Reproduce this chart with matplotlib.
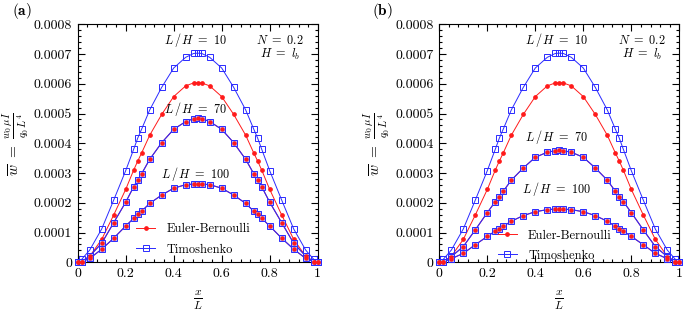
import numpy as np
import matplotlib
matplotlib.use("Agg")
import matplotlib.pyplot as plt
from matplotlib.ticker import MultipleLocator, FixedLocator, FixedFormatter

plt.rcParams['font.family'] = 'serif'
plt.rcParams['font.serif'] = ['cmr10', 'DejaVu Serif']
plt.rcParams['mathtext.fontset'] = 'cm'
plt.rcParams['axes.formatter.use_mathtext'] = True

# x / L positions of the plotted nodes
x_nodes = [0, 0.0167, 0.05, 0.1, 0.15, 0.2, 0.2333, 0.25, 0.2667, 0.3, 0.35, 0.4, 0.45, 0.4833, 0.5,
           0.5167, 0.55, 0.6, 0.65, 0.7, 0.7333, 0.75, 0.7667, 0.8, 0.85, 0.9, 0.95, 0.9833, 1.0]

# deflection values in units of 1e-4
timo_10 = [0, 0.10, 0.41, 1.12, 2.09, 3.08, 3.80, 4.17, 4.48, 5.12, 5.88, 6.53, 6.89, 7.02, 7.03,
           7.02, 6.89, 6.53, 5.88, 5.12, 4.48, 4.17, 3.80, 3.08, 2.09, 1.12, 0.41, 0.10, 0]
eb_10 = [0, 0.03, 0.20, 0.77, 1.59, 2.45, 3.10, 3.40, 3.68, 4.27, 4.97, 5.57, 5.93, 6.03, 6.04,
         6.03, 5.93, 5.57, 4.97, 4.27, 3.68, 3.40, 3.10, 2.45, 1.59, 0.77, 0.20, 0.03, 0]

eb_70_a = [0, 0.02, 0.21, 0.64, 1.33, 2.02, 2.54, 2.77, 2.98, 3.46, 4.02, 4.47, 4.73, 4.83, 4.84,
           4.83, 4.73, 4.47, 4.02, 3.46, 2.98, 2.77, 2.54, 2.02, 1.33, 0.64, 0.21, 0.02, 0]
timo_70_a = [0, 0.02, 0.21, 0.64, 1.33, 2.02, 2.54, 2.77, 2.98, 3.46, 4.02, 4.47, 4.73, 4.83, 4.84,
             4.83, 4.73, 4.47, 4.02, 3.46, 2.98, 2.77, 2.54, 2.02, 1.33, 0.64, 0.21, 0.02, 0]
eb_100_a = [0, 0.02, 0.13, 0.44, 0.81, 1.22, 1.48, 1.61, 1.72, 1.98, 2.26, 2.49, 2.61, 2.63, 2.64,
            2.63, 2.61, 2.49, 2.26, 1.98, 1.72, 1.61, 1.48, 1.22, 0.81, 0.44, 0.13, 0.02, 0]
timo_100_a = [0, 0.02, 0.13, 0.44, 0.81, 1.22, 1.48, 1.61, 1.72, 1.98, 2.26, 2.49, 2.61, 2.63, 2.64,
              2.63, 2.61, 2.49, 2.26, 1.98, 1.72, 1.61, 1.48, 1.22, 0.81, 0.44, 0.13, 0.02, 0]

eb_70_b = [0, 0.02, 0.19, 0.53, 1.09, 1.67, 2.04, 2.21, 2.39, 2.76, 3.17, 3.53, 3.70, 3.75, 3.76,
           3.75, 3.70, 3.53, 3.17, 2.76, 2.39, 2.21, 2.04, 1.67, 1.09, 0.53, 0.19, 0.02, 0]
timo_70_b = [0, 0.02, 0.19, 0.53, 1.09, 1.67, 2.04, 2.21, 2.39, 2.76, 3.17, 3.53, 3.70, 3.75, 3.76,
             3.75, 3.70, 3.53, 3.17, 2.76, 2.39, 2.21, 2.04, 1.67, 1.09, 0.53, 0.19, 0.02, 0]
eb_100_b = [0, 0.01, 0.12, 0.30, 0.59, 0.87, 1.05, 1.13, 1.21, 1.38, 1.57, 1.70, 1.77, 1.79, 1.79,
            1.79, 1.77, 1.70, 1.57, 1.38, 1.21, 1.13, 1.05, 0.87, 0.59, 0.30, 0.12, 0.01, 0]
timo_100_b = [0, 0.01, 0.12, 0.30, 0.59, 0.87, 1.05, 1.13, 1.21, 1.38, 1.57, 1.70, 1.77, 1.79, 1.79,
              1.79, 1.77, 1.70, 1.57, 1.38, 1.21, 1.13, 1.05, 0.87, 0.59, 0.30, 0.12, 0.01, 0]

y_ticks = [0, 0.0001, 0.0002, 0.0003, 0.0004, 0.0005, 0.0006, 0.0007, 0.0008]
y_tick_labels = ['0', '0.0001', '0.0002', '0.0003', '0.0004', '0.0005', '0.0006', '0.0007', '0.0008']
x_ticks = [0, 0.2, 0.4, 0.6, 0.8, 1.0]
x_tick_labels = ['0', '0.2', '0.4', '0.6', '0.8', '1']

BLUE = '#2a2aff'
RED = '#ff1a1a'
LIGHT = '#b0b8ff'
SCALE = 1e-4

fig = plt.figure(figsize=(6.85, 3.15), dpi=100)
axA = fig.add_axes([0.1134, 0.1673, 0.3504, 0.7556])
axB = fig.add_axes([0.6413, 0.1673, 0.3504, 0.7556])

panels = [
    (axA, eb_70_a, timo_70_a, eb_100_a, timo_100_a, 0.000515, 0.000297, (0.245, 0.028)),
    (axB, eb_70_b, timo_70_b, eb_100_b, timo_100_b, 0.00042, 0.000246, (0.245, 0.002)),
]

x = np.array(x_nodes)
for ax, e70, t70, e100, t100, y70, y100, leg_anchor in panels:
    # L/H = 10
    ax.plot(x, np.array(eb_10) * SCALE, '-', color=RED, lw=0.7, marker='o', ms=2.4,
            mfc=RED, mec=RED, clip_on=False, zorder=3, label='Euler-Bernoulli')
    ax.plot(x, np.array(timo_10) * SCALE, '-', color=BLUE, lw=0.7, marker='s', ms=3.8,
            mfc='none', mec=BLUE, mew=0.7, clip_on=False, zorder=3, label='Timoshenko')
    for e, t in [(e70, t70), (e100, t100)]:
        ax.plot(x, np.array(e) * SCALE, '-', color=RED, lw=0.7, clip_on=False, zorder=3)
        ax.plot(x, np.array(t) * SCALE, '-', color=BLUE, lw=0.8, marker='s', ms=3.8,
                mfc=LIGHT, mec=BLUE, mew=0.7, clip_on=False, zorder=4)
        ax.plot(x, np.array(e) * SCALE, 'o', ms=2.2, mfc=RED, mec=RED, clip_on=False, zorder=5)

    ax.set_xlim(0, 1)
    ax.set_ylim(0, 0.0008)
    ax.xaxis.set_major_locator(FixedLocator(x_ticks))
    ax.xaxis.set_major_formatter(FixedFormatter(x_tick_labels))
    ax.yaxis.set_major_locator(FixedLocator(y_ticks))
    ax.yaxis.set_major_formatter(FixedFormatter(y_tick_labels))
    ax.xaxis.set_minor_locator(MultipleLocator(0.04))
    ax.yaxis.set_minor_locator(MultipleLocator(0.00002))
    ax.tick_params(which='both', direction='in', top=True, right=True, labelsize=10, width=0.8)
    ax.tick_params(which='major', length=5, pad=4)
    ax.tick_params(which='minor', length=2.5)
    for s in ax.spines.values():
        s.set_linewidth(0.8)

    fs = 8.8
    ax.text(0.49, 0.000747, r'$L\,/\,H\ =\ 10$', ha='center', va='center', fontsize=fs)
    ax.text(0.843, 0.000747, r'$N\ =\ 0.2$', ha='center', va='center', fontsize=fs)
    ax.text(0.843, 0.000697, r'$H\ =\ l_b$', ha='center', va='center', fontsize=fs)
    ax.text(0.49, y70, r'$L\,/\,H\ =\ 70$', ha='center', va='center', fontsize=fs)
    ax.text(0.49, y100, r'$L\,/\,H\ =\ 100$', ha='center', va='center', fontsize=fs)

    ax.legend(loc='lower left', bbox_to_anchor=leg_anchor, frameon=False, fontsize=9,
              handlelength=1.5, handletextpad=0.9, labelspacing=0.65, borderpad=0.0,
              borderaxespad=0.0)

    ax.set_xlabel(r'$\frac{x}{L}$', fontsize=12, labelpad=6)
    ax.set_ylabel(r'$\overline{w}\ =\ \frac{w_0\,\mu I}{q_0\,L^4}$', fontsize=11, labelpad=2)

fig.text(12 / 685, 1 - 11 / 315, r'$\mathbf{(a)}$', fontsize=11, ha='left', va='center')
fig.text(372 / 685, 1 - 11 / 315, r'$\mathbf{(b)}$', fontsize=11, ha='left', va='center')

fig.savefig('out.png', dpi=100)
